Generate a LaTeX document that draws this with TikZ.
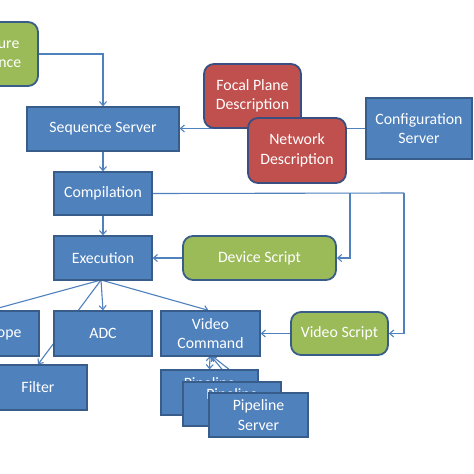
\documentclass[tikz,border=0pt]{standalone}
\usepackage{fontspec}
\setmainfont{Carlito}
\usetikzlibrary{arrows.meta,backgrounds}
\definecolor{bfill}{HTML}{4F81BD}
\definecolor{bline}{HTML}{385D8A}
\definecolor{gfill}{HTML}{9BBB59}
\definecolor{rfill}{HTML}{C0504D}
\definecolor{rline}{HTML}{3A4F80}
\definecolor{cline}{HTML}{4F81BD}
\tikzset{
  base/.style={text=white, align=center, inner sep=1pt, font=\fontsize{15.8}{19.5}\selectfont},
  bbox/.style={base, rectangle, fill=bfill, draw=bline, line width=1.3pt},
  gbox/.style={base, rectangle, rounded corners=10pt, fill=gfill, draw=bline, line width=1.8pt},
  rbox/.style={base, rectangle, rounded corners=10pt, fill=rfill, draw=rline, line width=1.8pt},
  conn/.style={draw=cline, line width=1.1pt},
  arr/.style={conn, -{Straight Barb[length=4pt,width=7pt]}},
  darr/.style={conn, {Straight Barb[length=4pt,width=7pt]}-{Straight Barb[length=4pt,width=7pt]}},
}
\begin{document}
\begin{tikzpicture}[x=1pt,y=-1pt]
\useasboundingbox (0,0) rectangle (474,474);
\clip (0,0) rectangle (474,474);
% nodes
\node[gbox, minimum width=96pt, minimum height=64pt] (expo) at (-10,54) {Exposure\\Sequence};
\node[bbox, minimum width=152pt, minimum height=44pt] (seq) at (103,129) {Sequence Server};
\node[bbox, minimum width=98pt, minimum height=43pt] (comp) at (103,193.5) {Compilation};
\node[bbox, minimum width=98pt, minimum height=44pt] (exec) at (103,258) {Execution};
\node[rbox, minimum width=97pt, minimum height=64pt] (focal) at (252.5,96) {Focal Plane\\Description};
\node[rbox, minimum width=98pt, minimum height=65pt] (net) at (297,150.5) {Network\\Description};
\node[bbox, minimum width=106pt, minimum height=61pt] (conf) at (419,128.5) {Configuration\\Server};
\node[gbox, minimum width=153pt, minimum height=44pt] (dev) at (259.5,258) {Device Script};
\node[gbox, minimum width=97pt, minimum height=43pt] (vscr) at (339.5,333.5) {Video Script};
\node[bbox, minimum width=99pt, minimum height=45pt] (vcmd) at (210.5,333.5) {Video\\Command};
\node[bbox, minimum width=98pt, minimum height=45pt] (tele) at (-10,333.5) {Telescope};
\node[bbox, minimum width=98pt, minimum height=45pt] (adc) at (103,333.5) {ADC};
\node[bbox, minimum width=98pt, minimum height=45pt] (filt) at (38,387.5) {Filter};
\node[bbox, minimum width=97pt, minimum height=45pt] (pipe1) at (209.5,392.5) {Pipeline\\Server};
\node[bbox, minimum width=98pt, minimum height=44pt] (pipe2) at (232,404) {Pipeline\\Server};
\node[bbox, minimum width=99pt, minimum height=44pt] (pipe3) at (258.5,415) {Pipeline\\Server};
\coordinate (j1) at (350,193);
\coordinate (j2) at (404,193);
\coordinate (ex) at (101,280);
\coordinate (vc) at (210,356);
% connectors
\begin{scope}[on background layer]
\fill[white] (0,0) rectangle (474,474);
\draw[arr] (expo.east) -| (seq.north);
\draw[arr] (seq.south) -- (comp.north);
\draw[arr] (comp.south) -- (exec.north);
\draw[arr] (conf.west) -- (conf.west -| seq.east);
\draw[conn] (comp.east) -- (j2);
\draw[arr] (j2) |- (vscr.east);
\draw[arr] (j1) |- (dev.east);
\draw[arr] (dev.west) -- (exec.east);
\draw[arr] (vscr.west) -- (vcmd.east);
\draw[arr] (ex) -- (tele.north);
\draw[arr] (ex) -- (adc.north);
\draw[arr] (ex) -- (filt.north);
\draw[arr] (ex) -- ([xshift=-2pt]vcmd.north);
\draw[darr] (vc) -- (pipe1.north);
\draw[darr] ([xshift=1pt]vc) -- (pipe2.north);
\draw[darr] ([xshift=2pt]vc) -- (pipe3.north);
\end{scope}
\end{tikzpicture}
\end{document}
